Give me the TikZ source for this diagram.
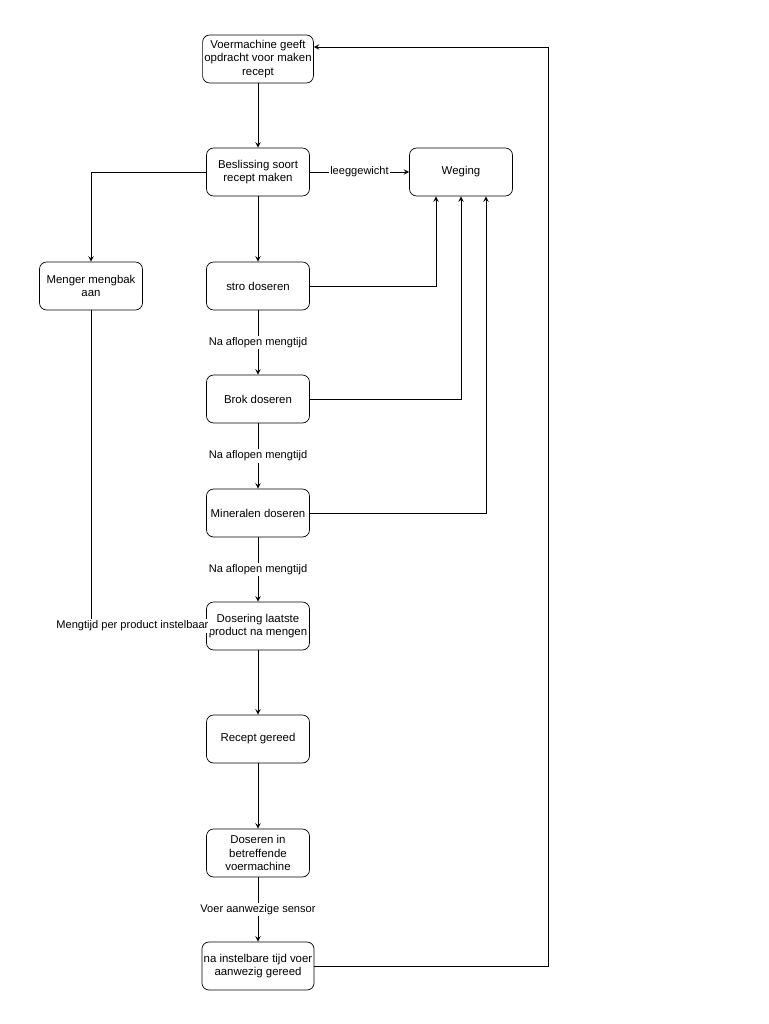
\documentclass[tikz,border=0pt]{standalone}
\usepackage{fontspec}
\setmainfont{Liberation Sans}
\usetikzlibrary{positioning}

\begin{document}
\begin{tikzpicture}[x=0.02cm,y=-0.02cm,
    stap/.style={draw,rounded corners=4pt,minimum width=2.06cm,minimum height=0.96cm,
                 align=center,font=\fontsize{6.5}{7.8}\selectfont,inner sep=1pt},
    lbl/.style={fill=white,font=\fontsize{6.3}{7.5}\selectfont,inner sep=1pt},
    >=stealth]
  \useasboundingbox (0,0) rectangle (768,1024);

  \node[stap] (opdracht) at (258,59)  {Voermachine geeft\\opdracht voor maken\\recept};
  \node[stap] (beslis)   at (258,172) {Beslissing soort\\recept maken};
  \node[stap] (weging)   at (461,172) {Weging};
  \node[stap] (menger)   at (91,286)  {Menger mengbak\\aan};
  \node[stap] (stro)     at (258,286) {stro doseren};
  \node[stap] (brok)     at (258,399) {Brok doseren};
  \node[stap] (mineraal) at (258,513) {Mineralen doseren};
  \node[stap] (laatste)  at (258,626) {Dosering laatste\\product na mengen};
  \node[stap] (gereed)   at (258,739) {Recept gereed};
  \node[stap] (voer)     at (258,853) {Doseren in\\betreffende\\voermachine};
  \node[stap] (tijd)     at (258,966) {na instelbare tijd voer\\aanwezig gereed};
  \coordinate (hoek) at (548,47);

  \draw[->] (opdracht) -- (beslis);
  \draw[->] (beslis) -- node[lbl] {leeggewicht} (weging);
  \draw[->] (beslis.west) -| (menger.north);
  \draw[->] (beslis) -- (stro);
  \draw[->] (stro.east) -| ([xshift=-0.5cm]weging.south);
  \draw[->] (brok.east) -| (weging.south);
  \draw[->] (mineraal.east) -| ([xshift=0.5cm]weging.south);
  \draw[->] (stro) -- node[lbl] {Na aflopen mengtijd} (brok);
  \draw[->] (brok) -- node[lbl] {Na aflopen mengtijd} (mineraal);
  \draw[->] (mineraal) -- node[lbl] {Na aflopen mengtijd} (laatste);
  \draw[->] (menger.south) |- node[lbl,pos=0.68] {Mengtijd per product instelbaar} (laatste.west);
  \draw[->] (laatste) -- (gereed);
  \draw[->] (gereed) -- (voer);
  \draw[->] (voer) -- node[lbl] {Voer aanwezige sensor} (tijd);
  \draw[->] (tijd.east) -| (hoek) -- (hoek -| opdracht.east);
\end{tikzpicture}
\end{document}
